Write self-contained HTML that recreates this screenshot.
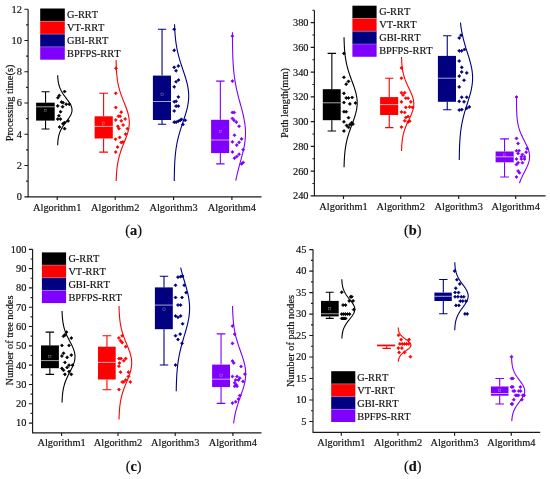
<!DOCTYPE html>
<html><head><meta charset="utf-8"><title>Figure</title>
<style>
html,body{margin:0;padding:0;background:#fff;}
svg{display:block;}
svg text{font-family:"Liberation Serif", "DejaVu Serif", serif;fill:#111;stroke:#111;stroke-width:0.18px;font-kerning:none;}
</style></head><body>
<svg width="550" height="479" viewBox="0 0 550 479">
<rect width="550" height="479" fill="#fff"/>
<path d="M28.10 9.24V196.80H261.50" fill="none" stroke="#1a1a1a" stroke-width="1.15"/>
<path d="M28.10 196.80h-3.7M28.10 165.54h-3.7M28.10 134.28h-3.7M28.10 103.02h-3.7M28.10 71.76h-3.7M28.10 40.50h-3.7M28.10 9.24h-3.7M28.10 181.17h-2M28.10 149.91h-2M28.10 118.65h-2M28.10 87.39h-2M28.10 56.13h-2M28.10 24.87h-2M57.20 196.80v3.3M115.20 196.80v3.3M173.60 196.80v3.3M231.90 196.80v3.3" fill="none" stroke="#1a1a1a" stroke-width="1.15"/>
<text x="21.80" y="200.20" text-anchor="end" font-size="10.35">0</text>
<text x="21.80" y="168.94" text-anchor="end" font-size="10.35">2</text>
<text x="21.80" y="137.68" text-anchor="end" font-size="10.35">4</text>
<text x="21.80" y="106.42" text-anchor="end" font-size="10.35">6</text>
<text x="21.80" y="75.16" text-anchor="end" font-size="10.35">8</text>
<text x="21.80" y="43.90" text-anchor="end" font-size="10.35">10</text>
<text x="21.80" y="12.64" text-anchor="end" font-size="10.35">12</text>
<text x="57.20" y="210.90" text-anchor="middle" font-size="10.35">Algorithm1</text>
<text x="115.20" y="210.90" text-anchor="middle" font-size="10.35">Algorithm2</text>
<text x="173.60" y="210.90" text-anchor="middle" font-size="10.35">Algorithm3</text>
<text x="231.90" y="210.90" text-anchor="middle" font-size="10.35">Algorithm4</text>
<text transform="translate(13.20 103.00) rotate(-90)" text-anchor="middle" font-size="10.35">Processing time(s)</text>
<rect x="40.20" y="8.50" width="24.60" height="12.80" fill="#000000"/>
<text x="67.00" y="18.00" font-size="10.35">G-RRT</text>
<rect x="40.20" y="21.30" width="24.60" height="12.80" fill="#ff0000"/>
<path d="M40.20 21.30H64.80" stroke="#d8c0e8" stroke-opacity="0.6" stroke-width="0.6"/>
<text x="67.00" y="30.95" font-size="10.35">VT-RRT</text>
<rect x="40.20" y="34.10" width="24.60" height="12.80" fill="#000080"/>
<path d="M40.20 34.10H64.80" stroke="#d8c0e8" stroke-opacity="0.6" stroke-width="0.6"/>
<text x="67.00" y="43.90" font-size="10.35">GBI-RRT</text>
<rect x="40.20" y="46.90" width="24.60" height="12.80" fill="#7f00ff"/>
<path d="M40.20 46.90H64.80" stroke="#d8c0e8" stroke-opacity="0.6" stroke-width="0.6"/>
<text x="67.00" y="56.85" font-size="10.35">BPFPS-RRT</text>
<path d="M45.55 102.70V91.80M41.50 91.80H49.60M45.55 120.60V129.00M41.50 129.00H49.60" fill="none" stroke="#000000" stroke-width="1.1"/>
<rect x="36.10" y="102.70" width="18.60" height="17.90" fill="#000000"/>
<path d="M36.10 106.80H54.70" stroke="#fff" stroke-opacity="0.72" stroke-width="0.9"/>
<rect x="44.45" y="109.30" width="2.2" height="2.2" fill="none" stroke="#fff" stroke-opacity="0.6" stroke-width="0.4"/>
<path d="M57.67 75.30L57.73 76.47L57.81 77.63L57.90 78.80L58.02 79.96L58.17 81.12L58.36 82.29L58.58 83.45L58.85 84.62L59.17 85.78L59.55 86.95L59.98 88.11L60.48 89.28L61.04 90.44L61.67 91.61L62.36 92.77L63.11 93.94L63.90 95.10L64.74 96.27L65.61 97.44L66.48 98.60L67.36 99.76L68.21 100.93L69.02 102.09L69.77 103.26L70.43 104.42L71.00 105.59L71.45 106.75L71.77 107.92L71.96 109.08L72.00 110.25L71.89 111.41L71.65 112.58L71.27 113.75L70.77 114.91L70.16 116.07L69.45 117.24L68.68 118.41L67.85 119.57L66.98 120.73L66.11 121.90L65.23 123.06L64.38 124.23L63.56 125.39L62.78 126.56L62.06 127.72L61.39 128.89L60.80 130.06L60.26 131.22L59.79 132.38L59.38 133.55L59.03 134.71L58.73 135.88L58.48 137.04L58.27 138.21L58.10 139.38L57.97 140.54L57.86 141.70L57.77 142.87L57.70 144.03L57.65 145.20" fill="none" stroke="#000000" stroke-width="1.1" stroke-linejoin="round"/>
<path d="M64.59 90.00L66.14 91.55L64.59 93.10L63.04 91.55ZM59.25 94.01L60.80 95.56L59.25 97.11L57.70 95.56ZM57.91 96.18L59.46 97.73L57.91 99.28L56.36 97.73ZM61.42 100.52L62.97 102.07L61.42 103.62L59.87 102.07ZM63.09 101.19L64.64 102.74L63.09 104.29L61.54 102.74ZM66.26 102.70L67.81 104.25L66.26 105.80L64.71 104.25ZM69.27 102.70L70.82 104.25L69.27 105.80L67.72 104.25ZM57.74 104.37L59.29 105.92L57.74 107.47L56.19 105.92ZM62.59 105.20L64.14 106.75L62.59 108.30L61.04 106.75ZM60.58 110.21L62.13 111.76L60.58 113.31L59.03 111.76ZM58.91 114.22L60.46 115.77L58.91 117.32L57.36 115.77ZM57.74 117.56L59.29 119.11L57.74 120.66L56.19 119.11ZM60.42 117.56L61.97 119.11L60.42 120.66L58.87 119.11ZM68.10 119.40L69.65 120.95L68.10 122.50L66.55 120.95ZM64.59 121.07L66.14 122.62L64.59 124.17L63.04 122.62ZM62.92 122.24L64.47 123.79L62.92 125.34L61.37 123.79ZM59.58 125.42L61.13 126.97L59.58 128.52L58.03 126.97ZM64.59 127.09L66.14 128.64L64.59 130.19L63.04 128.64Z" fill="#000000" stroke="#000000" stroke-width="0.7" stroke-linejoin="round"/>
<path d="M103.60 116.30V93.30M99.20 93.30H108.00M103.60 138.50V152.10M99.20 152.10H108.00" fill="none" stroke="#ff0000" stroke-width="1.1"/>
<rect x="94.60" y="116.30" width="18.20" height="22.20" fill="#ff0000"/>
<path d="M94.60 126.40H112.80" stroke="#fff" stroke-opacity="0.72" stroke-width="0.9"/>
<rect x="102.50" y="122.00" width="2.2" height="2.2" fill="none" stroke="#fff" stroke-opacity="0.6" stroke-width="0.4"/>
<path d="M116.11 60.10L116.15 62.12L116.20 64.13L116.26 66.14L116.34 68.16L116.45 70.17L116.58 72.19L116.74 74.20L116.94 76.22L117.18 78.23L117.46 80.25L117.79 82.27L118.18 84.28L118.63 86.30L119.13 88.31L119.69 90.33L120.31 92.34L120.99 94.36L121.71 96.37L122.48 98.38L123.27 100.40L124.07 102.42L124.88 104.43L125.67 106.45L126.42 108.46L127.12 110.47L127.75 112.49L128.29 114.50L128.72 116.52L129.04 118.54L129.24 120.55L129.30 122.56L129.23 124.58L129.03 126.59L128.70 128.61L128.26 130.62L127.71 132.64L127.08 134.66L126.37 136.67L125.62 138.69L124.83 140.70L124.02 142.72L123.22 144.73L122.43 146.75L121.67 148.76L120.94 150.78L120.27 152.79L119.66 154.81L119.10 156.82L118.60 158.84L118.15 160.85L117.77 162.87L117.44 164.88L117.16 166.90L116.93 168.91L116.73 170.93L116.57 172.94L116.44 174.96L116.34 176.97L116.26 178.99L116.19 181.00" fill="none" stroke="#ff0000" stroke-width="1.1" stroke-linejoin="round"/>
<path d="M115.76 91.76L117.31 93.31L115.76 94.86L114.21 93.31ZM115.76 105.99L117.31 107.54L115.76 109.09L114.21 107.54ZM121.26 110.58L122.81 112.13L121.26 113.68L119.71 112.13ZM118.51 114.71L120.06 116.26L118.51 117.81L116.96 116.26ZM120.12 114.71L121.67 116.26L120.12 117.81L118.57 116.26ZM125.17 117.47L126.72 119.02L125.17 120.57L123.62 119.02ZM115.76 118.39L117.31 119.94L115.76 121.49L114.21 119.94ZM121.26 119.30L122.81 120.85L121.26 122.40L119.71 120.85ZM123.10 123.44L124.65 124.99L123.10 126.54L121.55 124.99ZM117.82 124.81L119.37 126.36L117.82 127.91L116.27 126.36ZM118.97 127.11L120.52 128.66L118.97 130.21L117.42 128.66ZM127.46 127.11L129.01 128.66L127.46 130.21L125.91 128.66ZM125.62 132.62L127.17 134.17L125.62 135.72L124.07 134.17ZM119.66 135.83L121.21 137.38L119.66 138.93L118.11 137.38ZM115.53 137.67L117.08 139.22L115.53 140.77L113.98 139.22ZM122.87 140.42L124.42 141.97L122.87 143.52L121.32 141.97ZM121.26 140.88L122.81 142.43L121.26 143.98L119.71 142.43ZM117.59 145.47L119.14 147.02L117.59 148.57L116.04 147.02ZM115.76 150.52L117.31 152.07L115.76 153.62L114.21 152.07ZM116.00 66.75L117.55 68.30L116.00 69.85L114.45 68.30Z" fill="#ff0000" stroke="#ff0000" stroke-width="0.7" stroke-linejoin="round"/>
<path d="M162.05 75.60V29.20M157.90 29.20H166.20M162.05 120.00V124.30M157.90 124.30H166.20" fill="none" stroke="#000080" stroke-width="1.1"/>
<rect x="152.90" y="75.60" width="18.10" height="44.40" fill="#000080"/>
<path d="M152.90 101.50H171.00" stroke="#fff" stroke-opacity="0.72" stroke-width="0.9"/>
<rect x="160.95" y="93.10" width="2.2" height="2.2" fill="none" stroke="#fff" stroke-opacity="0.6" stroke-width="0.4"/>
<path d="M174.52 24.20L174.62 26.81L174.75 29.43L174.90 32.05L175.10 34.66L175.33 37.27L175.61 39.89L175.95 42.50L176.34 45.12L176.79 47.73L177.30 50.35L177.89 52.97L178.53 55.58L179.24 58.19L180.00 60.81L180.81 63.42L181.67 66.04L182.54 68.66L183.42 71.27L184.30 73.88L185.15 76.50L185.94 79.11L186.67 81.73L187.31 84.34L187.85 86.96L188.26 89.58L188.55 92.19L188.68 94.81L188.68 97.42L188.53 100.04L188.23 102.65L187.81 105.27L187.26 107.88L186.61 110.50L185.88 113.11L185.07 115.73L184.22 118.34L183.35 120.96L182.46 123.57L181.59 126.19L180.74 128.80L179.93 131.41L179.17 134.03L178.47 136.64L177.83 139.26L177.26 141.88L176.75 144.49L176.30 147.10L175.92 149.72L175.59 152.34L175.31 154.95L175.08 157.56L174.89 160.18L174.73 162.79L174.61 165.41L174.51 168.02L174.44 170.64L174.38 173.25L174.33 175.87L174.29 178.48L174.27 181.10" fill="none" stroke="#000080" stroke-width="1.1" stroke-linejoin="round"/>
<path d="M174.20 27.68L175.75 29.23L174.20 30.78L172.65 29.23ZM174.20 48.80L175.75 50.35L174.20 51.90L172.65 50.35ZM174.20 65.78L175.75 67.33L174.20 68.88L172.65 67.33ZM178.33 64.40L179.88 65.95L178.33 67.50L176.78 65.95ZM176.03 69.22L177.58 70.77L176.03 72.32L174.48 70.77ZM178.56 78.40L180.11 79.95L178.56 81.50L177.01 79.95ZM176.03 80.24L177.58 81.79L176.03 83.34L174.48 81.79ZM174.20 85.29L175.75 86.84L174.20 88.39L172.65 86.84ZM178.33 95.39L179.88 96.94L178.33 98.49L176.78 96.94ZM174.20 100.21L175.75 101.76L174.20 103.31L172.65 101.76ZM176.03 99.75L177.58 101.30L176.03 102.85L174.48 101.30ZM176.03 104.57L177.58 106.12L176.03 107.67L174.48 106.12ZM178.33 104.57L179.88 106.12L178.33 107.67L176.78 106.12ZM174.20 109.39L175.75 110.94L174.20 112.49L172.65 110.94ZM174.20 120.58L175.75 122.13L174.20 123.68L172.65 122.13ZM176.03 120.58L177.58 122.13L176.03 123.68L174.48 122.13ZM178.33 119.66L179.88 121.21L178.33 122.76L176.78 121.21ZM180.17 118.75L181.72 120.30L180.17 121.85L178.62 120.30ZM181.54 117.83L183.09 119.38L181.54 120.93L179.99 119.38ZM185.21 118.75L186.76 120.30L185.21 121.85L183.66 120.30ZM182.92 122.88L184.47 124.43L182.92 125.98L181.37 124.43Z" fill="#000080" stroke="#000080" stroke-width="0.7" stroke-linejoin="round"/>
<path d="M220.35 119.80V81.10M216.10 81.10H224.60M220.35 153.10V163.90M216.10 163.90H224.60" fill="none" stroke="#7f00ff" stroke-width="1.1"/>
<rect x="211.10" y="119.80" width="18.10" height="33.30" fill="#7f00ff"/>
<path d="M211.10 140.00H229.20" stroke="#fff" stroke-opacity="0.72" stroke-width="0.9"/>
<rect x="219.25" y="130.40" width="2.2" height="2.2" fill="none" stroke="#fff" stroke-opacity="0.6" stroke-width="0.4"/>
<path d="M232.43 32.20L232.44 34.68L232.46 37.15L232.47 39.62L232.50 42.10L232.53 44.58L232.56 47.05L232.61 49.53L232.66 52.00L232.74 54.48L232.82 56.95L232.92 59.43L233.05 61.90L233.20 64.38L233.37 66.85L233.58 69.33L233.81 71.80L234.09 74.28L234.40 76.75L234.75 79.22L235.14 81.70L235.58 84.18L236.05 86.65L236.57 89.12L237.13 91.60L237.72 94.08L238.35 96.55L239.00 99.03L239.66 101.50L240.34 103.98L241.02 106.45L241.68 108.92L242.33 111.40L242.94 113.88L243.51 116.35L244.02 118.83L244.48 121.30L244.85 123.78L245.15 126.25L245.36 128.73L245.47 131.20L245.50 133.68L245.42 136.15L245.26 138.62L245.00 141.10L244.66 143.57L244.24 146.05L243.75 148.53L243.20 151.00L242.61 153.48L241.98 155.95L241.32 158.43L240.65 160.90L239.97 163.38L239.30 165.85L238.64 168.32L238.00 170.80L237.39 173.27L236.82 175.75L236.28 178.23L235.79 180.70" fill="none" stroke="#7f00ff" stroke-width="1.1" stroke-linejoin="round"/>
<path d="M232.41 110.94L233.96 112.49L232.41 114.04L230.86 112.49ZM234.25 110.94L235.80 112.49L234.25 114.04L232.70 112.49ZM232.41 116.91L233.96 118.46L232.41 120.01L230.86 118.46ZM234.02 118.75L235.57 120.30L234.02 121.85L232.47 120.30ZM236.31 120.58L237.86 122.13L236.31 123.68L234.76 122.13ZM239.07 124.71L240.62 126.26L239.07 127.81L237.52 126.26ZM234.48 133.66L236.03 135.21L234.48 136.76L232.93 135.21ZM232.41 140.32L233.96 141.87L232.41 143.42L230.86 141.87ZM241.59 137.34L243.14 138.89L241.59 140.44L240.04 138.89ZM239.07 140.78L240.62 142.33L239.07 143.88L237.52 142.33ZM236.77 143.53L238.32 145.08L236.77 146.63L235.22 145.08ZM243.20 148.12L244.75 149.67L243.20 151.22L241.65 149.67ZM232.41 150.42L233.96 151.97L232.41 153.52L230.86 151.97ZM239.07 152.71L240.62 154.26L239.07 155.81L237.52 154.26ZM236.77 155.01L238.32 156.56L236.77 158.11L235.22 156.56ZM234.48 156.62L236.03 158.17L234.48 159.72L232.93 158.17ZM243.20 160.98L244.75 162.53L243.20 164.08L241.65 162.53ZM241.59 162.35L243.14 163.90L241.59 165.45L240.04 163.90ZM232.41 34.57L233.96 36.12L232.41 37.67L230.86 36.12ZM232.41 79.55L233.96 81.10L232.41 82.65L230.86 81.10Z" fill="#7f00ff" stroke="#7f00ff" stroke-width="0.7" stroke-linejoin="round"/>
<text x="133.7" y="235.2" text-anchor="middle" font-size="14.3"><tspan>(</tspan><tspan font-weight="bold">a</tspan><tspan>)</tspan></text>
<path d="M314.40 10.30V195.80H545.60" fill="none" stroke="#1a1a1a" stroke-width="1.15"/>
<path d="M314.40 195.85h-3.7M314.40 171.10h-3.7M314.40 146.35h-3.7M314.40 121.60h-3.7M314.40 96.85h-3.7M314.40 72.10h-3.7M314.40 47.35h-3.7M314.40 22.60h-3.7M314.40 183.47h-2M314.40 158.72h-2M314.40 133.97h-2M314.40 109.22h-2M314.40 84.47h-2M314.40 59.73h-2M314.40 34.98h-2M314.40 10.23h-2M343.50 195.80v3.3M400.70 195.80v3.3M458.70 195.80v3.3M515.70 195.80v3.3" fill="none" stroke="#1a1a1a" stroke-width="1.15"/>
<text x="308.50" y="199.25" text-anchor="end" font-size="10.35">240</text>
<text x="308.50" y="174.50" text-anchor="end" font-size="10.35">260</text>
<text x="308.50" y="149.75" text-anchor="end" font-size="10.35">280</text>
<text x="308.50" y="125.00" text-anchor="end" font-size="10.35">300</text>
<text x="308.50" y="100.25" text-anchor="end" font-size="10.35">320</text>
<text x="308.50" y="75.50" text-anchor="end" font-size="10.35">340</text>
<text x="308.50" y="50.75" text-anchor="end" font-size="10.35">360</text>
<text x="308.50" y="26.00" text-anchor="end" font-size="10.35">380</text>
<text x="343.50" y="210.40" text-anchor="middle" font-size="10.35">Algorithm1</text>
<text x="400.70" y="210.40" text-anchor="middle" font-size="10.35">Algorithm2</text>
<text x="458.70" y="210.40" text-anchor="middle" font-size="10.35">Algorithm3</text>
<text x="515.70" y="210.40" text-anchor="middle" font-size="10.35">Algorithm4</text>
<text transform="translate(288.00 103.00) rotate(-90)" text-anchor="middle" font-size="10.35">Path length(mm)</text>
<rect x="352.40" y="5.70" width="24.20" height="12.77" fill="#000000"/>
<text x="379.20" y="15.20" font-size="10.35">G-RRT</text>
<rect x="352.40" y="18.47" width="24.20" height="12.77" fill="#ff0000"/>
<path d="M352.40 18.47H376.60" stroke="#d8c0e8" stroke-opacity="0.6" stroke-width="0.6"/>
<text x="379.20" y="28.15" font-size="10.35">VT-RRT</text>
<rect x="352.40" y="31.25" width="24.20" height="12.77" fill="#000080"/>
<path d="M352.40 31.25H376.60" stroke="#d8c0e8" stroke-opacity="0.6" stroke-width="0.6"/>
<text x="379.20" y="41.10" font-size="10.35">GBI-RRT</text>
<rect x="352.40" y="44.02" width="24.20" height="12.77" fill="#7f00ff"/>
<path d="M352.40 44.02H376.60" stroke="#d8c0e8" stroke-opacity="0.6" stroke-width="0.6"/>
<text x="379.20" y="54.05" font-size="10.35">BPFPS-RRT</text>
<path d="M331.85 89.20V53.40M327.60 53.40H336.10M331.85 120.20V131.00M327.60 131.00H336.10" fill="none" stroke="#000000" stroke-width="1.1"/>
<rect x="322.80" y="89.20" width="17.90" height="31.00" fill="#000000"/>
<path d="M322.80 102.80H340.70" stroke="#fff" stroke-opacity="0.72" stroke-width="0.9"/>
<path d="M344.04 37.30L344.09 39.47L344.15 41.63L344.23 43.80L344.33 45.97L344.46 48.13L344.61 50.30L344.80 52.47L345.03 54.63L345.31 56.80L345.63 58.97L346.01 61.13L346.44 63.30L346.93 65.47L347.48 67.63L348.08 69.80L348.75 71.97L349.46 74.13L350.21 76.30L350.99 78.47L351.79 80.63L352.60 82.80L353.39 84.97L354.15 87.13L354.86 89.30L355.50 91.47L356.06 93.63L356.53 95.80L356.87 97.97L357.10 100.13L357.20 102.30L357.16 104.47L356.99 106.63L356.70 108.80L356.29 110.97L355.77 113.13L355.17 115.30L354.48 117.47L353.74 119.63L352.97 121.80L352.17 123.97L351.36 126.13L350.57 128.30L349.80 130.47L349.07 132.63L348.38 134.80L347.75 136.97L347.17 139.13L346.66 141.30L346.20 143.47L345.80 145.63L345.45 147.80L345.15 149.97L344.90 152.13L344.70 154.30L344.52 156.47L344.39 158.63L344.27 160.80L344.18 162.97L344.11 165.13L344.06 167.30" fill="none" stroke="#000000" stroke-width="1.1" stroke-linejoin="round"/>
<path d="M343.92 51.86L345.47 53.41L343.92 54.96L342.37 53.41ZM343.92 75.73L345.47 77.28L343.92 78.83L342.37 77.28ZM348.51 79.86L350.06 81.41L348.51 82.96L346.96 81.41ZM346.21 82.62L347.76 84.17L346.21 85.72L344.66 84.17ZM343.92 91.80L345.47 93.35L343.92 94.90L342.37 93.35ZM346.21 96.39L347.76 97.94L346.21 99.49L344.66 97.94ZM348.51 96.39L350.06 97.94L348.51 99.49L346.96 97.94ZM352.18 95.93L353.73 97.48L352.18 99.03L350.63 97.48ZM343.92 100.98L345.47 102.53L343.92 104.08L342.37 102.53ZM349.89 102.35L351.44 103.90L349.89 105.45L348.34 103.90ZM355.39 101.44L356.94 102.99L355.39 104.54L353.84 102.99ZM343.92 110.16L345.47 111.71L343.92 113.26L342.37 111.71ZM346.21 110.16L347.76 111.71L346.21 113.26L344.66 111.71ZM348.51 116.13L350.06 117.68L348.51 119.23L346.96 117.68ZM343.92 120.26L345.47 121.81L343.92 123.36L342.37 121.81ZM351.72 121.17L353.27 122.72L351.72 124.27L350.17 122.72ZM349.89 123.01L351.44 124.56L349.89 126.11L348.34 124.56ZM352.87 122.55L354.42 124.10L352.87 125.65L351.32 124.10ZM346.67 123.93L348.22 125.48L346.67 127.03L345.12 125.48ZM348.51 125.76L350.06 127.31L348.51 128.86L346.96 127.31ZM343.92 129.44L345.47 130.99L343.92 132.54L342.37 130.99Z" fill="#000000" stroke="#000000" stroke-width="0.7" stroke-linejoin="round"/>
<path d="M389.25 97.10V78.20M385.10 78.20H393.40M389.25 115.00V127.60M385.10 127.60H393.40" fill="none" stroke="#ff0000" stroke-width="1.1"/>
<rect x="380.10" y="97.10" width="18.10" height="17.90" fill="#ff0000"/>
<path d="M380.10 104.60H398.20" stroke="#fff" stroke-opacity="0.72" stroke-width="0.9"/>
<path d="M401.54 56.90L401.58 58.47L401.65 60.04L401.72 61.60L401.82 63.17L401.94 64.74L402.10 66.31L402.28 67.88L402.50 69.45L402.76 71.02L403.07 72.58L403.43 74.15L403.85 75.72L404.32 77.29L404.84 78.86L405.42 80.42L406.04 81.99L406.71 83.56L407.42 85.13L408.16 86.70L408.91 88.27L409.65 89.83L410.39 91.40L411.09 92.97L411.74 94.54L412.33 96.11L412.83 97.68L413.24 99.25L413.55 100.81L413.73 102.38L413.80 103.95L413.74 105.52L413.56 107.09L413.27 108.66L412.86 110.22L412.36 111.79L411.78 113.36L411.13 114.93L410.43 116.50L409.70 118.06L408.95 119.63L408.20 121.20L407.47 122.77L406.76 124.34L406.08 125.91L405.45 127.47L404.87 129.04L404.35 130.61L403.88 132.18L403.46 133.75L403.10 135.32L402.78 136.88L402.52 138.45L402.29 140.02L402.11 141.59L401.95 143.16L401.83 144.73L401.73 146.29L401.65 147.86L401.59 149.43L401.54 151.00" fill="none" stroke="#ff0000" stroke-width="1.1" stroke-linejoin="round"/>
<path d="M401.44 66.35L402.99 67.90L401.44 69.45L399.89 67.90ZM401.44 76.68L402.99 78.23L401.44 79.78L399.89 78.23ZM401.44 91.14L402.99 92.69L401.44 94.24L399.89 92.69ZM404.66 91.14L406.21 92.69L404.66 94.24L403.11 92.69ZM403.05 93.44L404.60 94.99L403.05 96.54L401.50 94.99ZM405.80 96.65L407.35 98.20L405.80 99.75L404.25 98.20ZM401.44 100.32L402.99 101.87L401.44 103.42L399.89 101.87ZM408.10 96.65L409.65 98.20L408.10 99.75L406.55 98.20ZM410.85 100.32L412.40 101.87L410.85 103.42L409.30 101.87ZM405.80 105.83L407.35 107.38L405.80 108.93L404.25 107.38ZM409.71 105.37L411.26 106.92L409.71 108.47L408.16 106.92ZM412.46 105.83L414.01 107.38L412.46 108.93L410.91 107.38ZM401.44 110.42L402.99 111.97L401.44 113.52L399.89 111.97ZM404.66 110.88L406.21 112.43L404.66 113.98L403.11 112.43ZM408.10 115.01L409.65 116.56L408.10 118.11L406.55 116.56ZM405.80 115.93L407.35 117.48L405.80 119.03L404.25 117.48ZM404.66 119.14L406.21 120.69L404.66 122.24L403.11 120.69ZM409.71 119.60L411.26 121.15L409.71 122.70L408.16 121.15ZM408.10 120.52L409.65 122.07L408.10 123.62L406.55 122.07ZM401.44 125.57L402.99 127.12L401.44 128.67L399.89 127.12Z" fill="#ff0000" stroke="#ff0000" stroke-width="0.7" stroke-linejoin="round"/>
<path d="M447.25 55.90V35.70M443.10 35.70H451.40M447.25 101.80V109.80M443.10 109.80H451.40" fill="none" stroke="#000080" stroke-width="1.1"/>
<rect x="437.90" y="55.90" width="18.10" height="45.90" fill="#000080"/>
<path d="M437.90 78.20H456.00" stroke="#fff" stroke-opacity="0.72" stroke-width="0.9"/>
<path d="M460.47 22.60L460.73 24.89L461.04 27.18L461.39 29.47L461.79 31.76L462.23 34.05L462.73 36.34L463.27 38.63L463.86 40.92L464.48 43.21L465.15 45.50L465.84 47.79L466.56 50.08L467.29 52.37L468.01 54.66L468.73 56.95L469.42 59.24L470.08 61.53L470.68 63.82L471.22 66.11L471.68 68.40L472.06 70.69L472.34 72.98L472.52 75.27L472.60 77.56L472.56 79.85L472.42 82.14L472.18 84.43L471.84 86.72L471.41 89.01L470.90 91.30L470.32 93.59L469.68 95.88L469.00 98.17L468.29 100.46L467.57 102.75L466.84 105.04L466.12 107.33L465.41 109.62L464.73 111.91L464.09 114.20L463.49 116.49L462.93 118.78L462.42 121.07L461.95 123.36L461.54 125.65L461.17 127.94L460.84 130.23L460.56 132.52L460.32 134.81L460.11 137.10L459.94 139.39L459.79 141.68L459.67 143.97L459.57 146.26L459.49 148.55L459.43 150.84L459.37 153.13L459.33 155.42L459.30 157.71L459.28 160.00" fill="none" stroke="#000080" stroke-width="1.1" stroke-linejoin="round"/>
<path d="M459.20 36.45L460.75 38.00L459.20 39.55L457.65 38.00ZM461.03 33.70L462.58 35.25L461.03 36.80L459.48 35.25ZM459.20 49.30L460.75 50.85L459.20 52.40L457.65 50.85ZM461.72 49.30L463.27 50.85L461.72 52.40L460.17 50.85ZM464.48 47.93L466.03 49.48L464.48 51.03L462.93 49.48ZM459.20 59.40L460.75 60.95L459.20 62.50L457.65 60.95ZM461.72 65.83L463.27 67.38L461.72 68.93L460.17 67.38ZM461.72 70.42L463.27 71.97L461.72 73.52L460.17 71.97ZM466.77 71.34L468.32 72.89L466.77 74.44L465.22 72.89ZM459.20 74.55L460.75 76.10L459.20 77.65L457.65 76.10ZM464.02 78.68L465.57 80.23L464.02 81.78L462.47 80.23ZM459.20 85.34L460.75 86.89L459.20 88.44L457.65 86.89ZM461.72 95.67L463.27 97.22L461.72 98.77L460.17 97.22ZM466.77 95.67L468.32 97.22L466.77 98.77L465.22 97.22ZM459.20 99.80L460.75 101.35L459.20 102.90L457.65 101.35ZM464.02 100.26L465.57 101.81L464.02 103.36L462.47 101.81ZM469.30 105.31L470.85 106.86L469.30 108.41L467.75 106.86ZM466.77 106.68L468.32 108.23L466.77 109.78L465.22 108.23ZM459.20 108.52L460.75 110.07L459.20 111.62L457.65 110.07ZM461.72 108.06L463.27 109.61L461.72 111.16L460.17 109.61Z" fill="#000080" stroke="#000080" stroke-width="0.7" stroke-linejoin="round"/>
<path d="M504.55 151.50V138.90M500.20 138.90H508.90M504.55 162.30V177.00M500.20 177.00H508.90" fill="none" stroke="#7f00ff" stroke-width="1.1"/>
<rect x="495.60" y="151.50" width="18.10" height="10.80" fill="#7f00ff"/>
<path d="M495.60 156.80H513.70" stroke="#fff" stroke-opacity="0.72" stroke-width="0.9"/>
<rect x="503.45" y="153.90" width="2.2" height="2.2" fill="none" stroke="#fff" stroke-opacity="0.6" stroke-width="0.4"/>
<path d="M516.51 97.00L516.51 98.44L516.52 99.87L516.52 101.31L516.53 102.75L516.54 104.18L516.56 105.62L516.58 107.06L516.61 108.49L516.64 109.93L516.69 111.37L516.75 112.80L516.82 114.24L516.91 115.68L517.02 117.11L517.15 118.55L517.32 119.99L517.51 121.42L517.74 122.86L518.01 124.30L518.33 125.73L518.69 127.17L519.09 128.61L519.55 130.04L520.06 131.48L520.62 132.92L521.22 134.35L521.87 135.79L522.55 137.23L523.26 138.66L523.98 140.10L524.72 141.54L525.45 142.97L526.16 144.41L526.84 145.85L527.48 147.28L528.05 148.72L528.55 150.16L528.96 151.59L529.28 153.03L529.49 154.47L529.59 155.90L529.58 157.34L529.46 158.78L529.23 160.21L528.90 161.65L528.47 163.09L527.96 164.52L527.37 165.96L526.73 167.40L526.05 168.83L525.33 170.27L524.60 171.71L523.86 173.14L523.13 174.58L522.43 176.02L521.75 177.45L521.11 178.89L520.52 180.33L519.97 181.76L519.47 183.20" fill="none" stroke="#7f00ff" stroke-width="1.1" stroke-linejoin="round"/>
<path d="M516.49 95.53L518.04 97.08L516.49 98.63L514.94 97.08ZM516.49 136.85L518.04 138.40L516.49 139.95L514.94 138.40ZM518.10 141.90L519.65 143.45L518.10 145.00L516.55 143.45ZM527.05 146.94L528.60 148.49L527.05 150.04L525.50 148.49ZM516.49 149.24L518.04 150.79L516.49 152.34L514.94 150.79ZM519.02 149.24L520.57 150.79L519.02 152.34L517.47 150.79ZM526.13 150.62L527.68 152.17L526.13 153.72L524.58 152.17ZM518.10 151.99L519.65 153.54L518.10 155.09L516.55 153.54ZM522.46 152.91L524.01 154.46L522.46 156.01L520.91 154.46ZM521.31 155.21L522.86 156.76L521.31 158.31L519.76 156.76ZM524.53 155.21L526.08 156.76L524.53 158.31L522.98 156.76ZM516.49 157.50L518.04 159.05L516.49 160.60L514.94 159.05ZM521.31 157.50L522.86 159.05L521.31 160.60L519.76 159.05ZM524.53 157.50L526.08 159.05L524.53 160.60L522.98 159.05ZM522.46 161.17L524.01 162.72L522.46 164.27L520.91 162.72ZM518.10 161.17L519.65 162.72L518.10 164.27L516.55 162.72ZM516.49 163.01L518.04 164.56L516.49 166.11L514.94 164.56ZM518.10 169.44L519.65 170.99L518.10 172.54L516.55 170.99ZM519.48 171.27L521.03 172.82L519.48 174.37L517.93 172.82ZM516.49 175.40L518.04 176.95L516.49 178.50L514.94 176.95Z" fill="#7f00ff" stroke="#7f00ff" stroke-width="0.7" stroke-linejoin="round"/>
<text x="412.7" y="235.2" text-anchor="middle" font-size="14.3"><tspan>(</tspan><tspan font-weight="bold">b</tspan><tspan>)</tspan></text>
<path d="M32.60 249.30V432.80H261.50" fill="none" stroke="#1a1a1a" stroke-width="1.15"/>
<path d="M32.60 423.09h-3.7M32.60 403.78h-3.7M32.60 384.47h-3.7M32.60 365.16h-3.7M32.60 345.85h-3.7M32.60 326.54h-3.7M32.60 307.23h-3.7M32.60 287.92h-3.7M32.60 268.61h-3.7M32.60 249.30h-3.7M32.60 413.44h-2M32.60 394.12h-2M32.60 374.81h-2M32.60 355.50h-2M32.60 336.19h-2M32.60 316.88h-2M32.60 297.57h-2M32.60 278.26h-2M32.60 258.96h-2M61.60 432.80v3.3M118.00 432.80v3.3M175.20 432.80v3.3M232.90 432.80v3.3" fill="none" stroke="#1a1a1a" stroke-width="1.15"/>
<text x="26.30" y="426.49" text-anchor="end" font-size="10.35">10</text>
<text x="26.30" y="407.18" text-anchor="end" font-size="10.35">20</text>
<text x="26.30" y="387.87" text-anchor="end" font-size="10.35">30</text>
<text x="26.30" y="368.56" text-anchor="end" font-size="10.35">40</text>
<text x="26.30" y="349.25" text-anchor="end" font-size="10.35">50</text>
<text x="26.30" y="329.94" text-anchor="end" font-size="10.35">60</text>
<text x="26.30" y="310.63" text-anchor="end" font-size="10.35">70</text>
<text x="26.30" y="291.32" text-anchor="end" font-size="10.35">80</text>
<text x="26.30" y="272.01" text-anchor="end" font-size="10.35">90</text>
<text x="26.30" y="252.70" text-anchor="end" font-size="10.35">100</text>
<text x="61.60" y="446.40" text-anchor="middle" font-size="10.35">Algorithm1</text>
<text x="118.00" y="446.40" text-anchor="middle" font-size="10.35">Algorithm2</text>
<text x="175.20" y="446.40" text-anchor="middle" font-size="10.35">Algorithm3</text>
<text x="232.90" y="446.40" text-anchor="middle" font-size="10.35">Algorithm4</text>
<text transform="translate(13.00 340.50) rotate(-90)" text-anchor="middle" font-size="10.35">Number of tree nodes</text>
<rect x="41.90" y="252.40" width="24.20" height="12.68" fill="#000000"/>
<text x="68.40" y="261.90" font-size="10.35">G-RRT</text>
<rect x="41.90" y="265.07" width="24.20" height="12.68" fill="#ff0000"/>
<path d="M41.90 265.07H66.10" stroke="#d8c0e8" stroke-opacity="0.6" stroke-width="0.6"/>
<text x="68.40" y="274.85" font-size="10.35">VT-RRT</text>
<rect x="41.90" y="277.75" width="24.20" height="12.68" fill="#000080"/>
<path d="M41.90 277.75H66.10" stroke="#d8c0e8" stroke-opacity="0.6" stroke-width="0.6"/>
<text x="68.40" y="287.80" font-size="10.35">GBI-RRT</text>
<rect x="41.90" y="290.43" width="24.20" height="12.68" fill="#7f00ff"/>
<path d="M41.90 290.43H66.10" stroke="#d8c0e8" stroke-opacity="0.6" stroke-width="0.6"/>
<text x="68.40" y="300.75" font-size="10.35">BPFPS-RRT</text>
<path d="M49.85 345.40V332.10M45.60 332.10H54.10M49.85 368.20V374.40M45.60 374.40H54.10" fill="none" stroke="#000000" stroke-width="1.1"/>
<rect x="41.00" y="345.40" width="17.90" height="22.80" fill="#000000"/>
<path d="M41.00 360.60H58.90" stroke="#fff" stroke-opacity="0.72" stroke-width="0.9"/>
<rect x="48.75" y="355.40" width="2.2" height="2.2" fill="none" stroke="#fff" stroke-opacity="0.6" stroke-width="0.4"/>
<path d="M62.05 311.00L62.10 312.53L62.17 314.05L62.25 315.58L62.36 317.11L62.49 318.63L62.66 320.16L62.86 321.69L63.09 323.21L63.38 324.74L63.71 326.27L64.10 327.79L64.54 329.32L65.04 330.85L65.60 332.37L66.22 333.90L66.88 335.43L67.60 336.95L68.35 338.48L69.12 340.01L69.91 341.53L70.70 343.06L71.48 344.59L72.21 346.11L72.89 347.64L73.50 349.17L74.03 350.69L74.45 352.22L74.76 353.75L74.94 355.27L75.00 356.80L74.93 358.33L74.72 359.85L74.40 361.38L73.97 362.91L73.43 364.43L72.81 365.96L72.12 367.49L71.38 369.01L70.60 370.54L69.81 372.07L69.02 373.59L68.25 375.12L67.50 376.65L66.79 378.17L66.13 379.70L65.52 381.23L64.97 382.75L64.48 384.28L64.04 385.81L63.67 387.33L63.34 388.86L63.06 390.39L62.83 391.91L62.63 393.44L62.47 394.97L62.35 396.49L62.24 398.02L62.16 399.55L62.10 401.07L62.05 402.60" fill="none" stroke="#000000" stroke-width="1.1" stroke-linejoin="round"/>
<path d="M66.49 330.58L68.04 332.13L66.49 333.68L64.94 332.13ZM64.89 333.34L66.44 334.89L64.89 336.44L63.34 334.89ZM63.51 334.71L65.06 336.26L63.51 337.81L61.96 336.26ZM71.31 336.55L72.86 338.10L71.31 339.65L69.76 338.10ZM61.90 343.89L63.45 345.44L61.90 346.99L60.35 345.44ZM69.02 343.89L70.57 345.44L69.02 346.99L67.47 345.44ZM63.51 351.70L65.06 353.25L63.51 354.80L61.96 353.25ZM61.90 354.45L63.45 356.00L61.90 357.55L60.35 356.00ZM71.31 353.53L72.86 355.08L71.31 356.63L69.76 355.08ZM67.18 355.83L68.73 357.38L67.18 358.93L65.63 357.38ZM64.89 360.88L66.44 362.43L64.89 363.98L63.34 362.43ZM72.46 363.63L74.01 365.18L72.46 366.73L70.91 365.18ZM69.02 363.63L70.57 365.18L69.02 366.73L67.47 365.18ZM67.18 365.93L68.73 367.48L67.18 369.03L65.63 367.48ZM61.90 366.85L63.45 368.40L61.90 369.95L60.35 368.40ZM63.51 368.68L65.06 370.23L63.51 371.78L61.96 370.23ZM69.02 370.06L70.57 371.61L69.02 373.16L67.47 371.61ZM64.89 372.81L66.44 374.36L64.89 375.91L63.34 374.36ZM71.31 372.81L72.86 374.36L71.31 375.91L69.76 374.36Z" fill="#000000" stroke="#000000" stroke-width="0.7" stroke-linejoin="round"/>
<path d="M106.95 346.70V335.80M102.60 335.80H111.30M106.95 379.50V389.80M102.60 389.80H111.30" fill="none" stroke="#ff0000" stroke-width="1.1"/>
<rect x="98.00" y="346.70" width="17.70" height="32.80" fill="#ff0000"/>
<path d="M98.00 362.40H115.70" stroke="#fff" stroke-opacity="0.72" stroke-width="0.9"/>
<path d="M119.04 306.00L119.08 307.89L119.14 309.78L119.22 311.67L119.32 313.56L119.44 315.45L119.59 317.34L119.78 319.23L120.00 321.12L120.26 323.01L120.58 324.90L120.94 326.79L121.36 328.68L121.84 330.57L122.37 332.46L122.96 334.35L123.60 336.24L124.29 338.13L125.01 340.02L125.77 341.91L126.54 343.80L127.32 345.69L128.08 347.58L128.81 349.47L129.49 351.36L130.11 353.25L130.64 355.14L131.08 357.03L131.41 358.92L131.61 360.81L131.70 362.70L131.65 364.59L131.48 366.48L131.19 368.37L130.79 370.26L130.28 372.15L129.69 374.04L129.03 375.93L128.31 377.82L127.56 379.71L126.79 381.60L126.01 383.49L125.25 385.38L124.51 387.27L123.81 389.16L123.16 391.05L122.55 392.94L122.00 394.83L121.51 396.72L121.07 398.61L120.69 400.50L120.36 402.39L120.08 404.28L119.84 406.17L119.65 408.06L119.49 409.95L119.35 411.84L119.25 413.73L119.17 415.62L119.10 417.51L119.05 419.40" fill="none" stroke="#ff0000" stroke-width="1.1" stroke-linejoin="round"/>
<path d="M122.17 334.26L123.72 335.81L122.17 337.36L120.62 335.81ZM118.91 336.43L120.46 337.98L118.91 339.53L117.36 337.98ZM120.54 339.14L122.09 340.69L120.54 342.24L118.99 340.69ZM122.17 341.04L123.72 342.59L122.17 344.14L120.62 342.59ZM125.69 345.11L127.24 346.66L125.69 348.21L124.14 346.66ZM118.91 357.05L120.46 358.60L118.91 360.15L117.36 358.60ZM121.08 357.05L122.63 358.60L121.08 360.15L119.53 358.60ZM125.69 357.05L127.24 358.60L125.69 360.15L124.14 358.60ZM123.80 359.22L125.35 360.77L123.80 362.32L122.25 360.77ZM119.45 361.39L121.00 362.94L119.45 364.49L117.90 362.94ZM118.91 364.65L120.46 366.20L118.91 367.75L117.36 366.20ZM120.54 370.61L122.09 372.16L120.54 373.71L118.99 372.16ZM128.41 370.61L129.96 372.16L128.41 373.71L126.86 372.16ZM128.41 374.96L129.96 376.51L128.41 378.06L126.86 376.51ZM125.69 378.48L127.24 380.03L125.69 381.58L124.14 380.03ZM122.17 380.38L123.72 381.93L122.17 383.48L120.62 381.93ZM123.80 380.38L125.35 381.93L123.80 383.48L122.25 381.93ZM130.31 380.38L131.86 381.93L130.31 383.48L128.76 381.93ZM118.91 387.98L120.46 389.53L118.91 391.08L117.36 389.53Z" fill="#ff0000" stroke="#ff0000" stroke-width="0.7" stroke-linejoin="round"/>
<path d="M164.00 287.40V276.30M159.80 276.30H168.20M164.00 329.20V365.00M159.80 365.00H168.20" fill="none" stroke="#000080" stroke-width="1.1"/>
<rect x="154.90" y="287.40" width="17.90" height="41.80" fill="#000080"/>
<path d="M154.90 305.10H172.80" stroke="#fff" stroke-opacity="0.72" stroke-width="0.9"/>
<rect x="162.90" y="308.00" width="2.2" height="2.2" fill="none" stroke="#fff" stroke-opacity="0.6" stroke-width="0.4"/>
<path d="M180.62 267.60L181.13 269.66L181.67 271.72L182.24 273.79L182.83 275.85L183.43 277.91L184.04 279.97L184.65 282.03L185.26 284.09L185.86 286.16L186.44 288.22L186.99 290.28L187.51 292.34L187.98 294.40L188.41 296.46L188.77 298.53L189.08 300.59L189.32 302.65L189.49 304.71L189.58 306.77L189.60 308.83L189.54 310.90L189.41 312.96L189.20 315.02L188.93 317.08L188.59 319.14L188.19 321.20L187.74 323.26L187.25 325.33L186.71 327.39L186.14 329.45L185.55 331.51L184.95 333.57L184.34 335.63L183.72 337.70L183.12 339.76L182.52 341.82L181.95 343.88L181.39 345.94L180.86 348.00L180.36 350.07L179.89 352.13L179.45 354.19L179.05 356.25L178.68 358.31L178.35 360.38L178.04 362.44L177.77 364.50L177.53 366.56L177.32 368.62L177.13 370.68L176.97 372.75L176.82 374.81L176.70 376.87L176.60 378.93L176.51 380.99L176.44 383.05L176.37 385.12L176.32 387.18L176.28 389.24L176.24 391.30" fill="none" stroke="#000080" stroke-width="1.1" stroke-linejoin="round"/>
<path d="M177.98 275.58L179.53 277.13L177.98 278.68L176.43 277.13ZM180.69 275.04L182.24 276.59L180.69 278.14L179.14 276.59ZM182.59 274.49L184.14 276.04L182.59 277.59L181.04 276.04ZM175.54 283.72L177.09 285.27L175.54 286.82L173.99 285.27ZM184.22 283.72L185.77 285.27L184.22 286.82L182.67 285.27ZM186.12 291.04L187.67 292.59L186.12 294.14L184.57 292.59ZM175.54 295.93L177.09 297.48L175.54 299.03L173.99 297.48ZM182.05 295.93L183.60 297.48L182.05 299.03L180.50 297.48ZM177.98 303.52L179.53 305.07L177.98 306.62L176.43 305.07ZM180.69 303.52L182.24 305.07L180.69 306.62L179.14 305.07ZM175.54 314.38L177.09 315.93L175.54 317.48L173.99 315.93ZM177.98 315.73L179.53 317.28L177.98 318.83L176.43 317.28ZM180.69 314.38L182.24 315.93L180.69 317.48L179.14 315.93ZM182.59 322.24L184.14 323.79L182.59 325.34L181.04 323.79ZM180.15 332.55L181.70 334.10L180.15 335.65L178.60 334.10ZM175.54 334.18L177.09 335.73L175.54 337.28L173.99 335.73ZM177.98 337.98L179.53 339.53L177.98 341.08L176.43 339.53ZM182.05 341.78L183.60 343.33L182.05 344.88L180.50 343.33ZM175.54 363.48L177.09 365.03L175.54 366.58L173.99 365.03Z" fill="#000080" stroke="#000080" stroke-width="0.7" stroke-linejoin="round"/>
<path d="M221.05 364.60V333.90M216.70 333.90H225.40M221.05 387.10V403.40M216.70 403.40H225.40" fill="none" stroke="#7f00ff" stroke-width="1.1"/>
<rect x="212.10" y="364.60" width="17.90" height="22.50" fill="#7f00ff"/>
<path d="M212.10 379.20H230.00" stroke="#fff" stroke-opacity="0.72" stroke-width="0.9"/>
<rect x="219.95" y="374.10" width="2.2" height="2.2" fill="none" stroke="#fff" stroke-opacity="0.6" stroke-width="0.4"/>
<path d="M232.55 306.00L232.60 307.96L232.65 309.91L232.72 311.87L232.81 313.83L232.91 315.78L233.03 317.74L233.18 319.70L233.35 321.65L233.55 323.61L233.79 325.57L234.06 327.52L234.38 329.48L234.73 331.44L235.13 333.39L235.57 335.35L236.05 337.31L236.58 339.26L237.15 341.22L237.75 343.18L238.39 345.13L239.06 347.09L239.74 349.05L240.43 351.00L241.13 352.96L241.81 354.92L242.47 356.87L243.10 358.83L243.68 360.79L244.21 362.74L244.67 364.70L245.06 366.66L245.36 368.61L245.57 370.57L245.68 372.53L245.69 374.48L245.61 376.44L245.43 378.40L245.16 380.35L244.80 382.31L244.36 384.27L243.85 386.22L243.28 388.18L242.67 390.14L242.01 392.09L241.33 394.05L240.64 396.01L239.95 397.96L239.26 399.92L238.59 401.88L237.94 403.83L237.33 405.79L236.75 407.75L236.21 409.70L235.71 411.66L235.26 413.62L234.85 415.57L234.48 417.53L234.15 419.49L233.87 421.44L233.62 423.40" fill="none" stroke="#7f00ff" stroke-width="1.1" stroke-linejoin="round"/>
<path d="M232.44 324.49L233.99 326.04L232.44 327.59L230.89 326.04ZM234.61 332.63L236.16 334.18L234.61 335.73L233.06 334.18ZM232.44 341.86L233.99 343.41L232.44 344.96L230.89 343.41ZM232.44 359.49L233.99 361.04L232.44 362.59L230.89 361.04ZM233.80 361.39L235.35 362.94L233.80 364.49L232.25 362.94ZM241.12 364.92L242.67 366.47L241.12 368.02L239.57 366.47ZM232.44 374.96L233.99 376.51L232.44 378.06L230.89 376.51ZM237.05 374.96L238.60 376.51L237.05 378.06L235.50 376.51ZM239.76 376.58L241.31 378.13L239.76 379.68L238.21 378.13ZM244.92 372.51L246.47 374.06L244.92 375.61L243.37 374.06ZM235.69 378.48L237.24 380.03L235.69 381.58L234.14 380.03ZM238.41 378.48L239.96 380.03L238.41 381.58L236.86 380.03ZM243.02 379.84L244.57 381.39L243.02 382.94L241.47 381.39ZM234.61 381.20L236.16 382.75L234.61 384.30L233.06 382.75ZM236.24 383.09L237.79 384.64L236.24 386.19L234.69 384.64ZM234.61 384.72L236.16 386.27L234.61 387.82L233.06 386.27ZM237.05 384.72L238.60 386.27L237.05 387.82L235.50 386.27ZM239.76 393.95L241.31 395.50L239.76 397.05L238.21 395.50ZM238.41 397.47L239.96 399.02L238.41 400.57L236.86 399.02ZM235.69 400.19L237.24 401.74L235.69 403.29L234.14 401.74ZM232.44 401.54L233.99 403.09L232.44 404.64L230.89 403.09Z" fill="#7f00ff" stroke="#7f00ff" stroke-width="0.7" stroke-linejoin="round"/>
<text x="133.6" y="470.5" text-anchor="middle" font-size="14.3"><tspan>(</tspan><tspan font-weight="bold">c</tspan><tspan>)</tspan></text>
<path d="M313.00 249.60V432.40H540.20" fill="none" stroke="#1a1a1a" stroke-width="1.15"/>
<path d="M313.00 421.48h-3.7M313.00 400.00h-3.7M313.00 378.51h-3.7M313.00 357.02h-3.7M313.00 335.54h-3.7M313.00 314.06h-3.7M313.00 292.57h-3.7M313.00 271.08h-3.7M313.00 249.60h-3.7M313.00 410.74h-2M313.00 389.25h-2M313.00 367.77h-2M313.00 346.28h-2M313.00 324.80h-2M313.00 303.31h-2M313.00 281.83h-2M313.00 260.34h-2M341.30 432.40v3.3M398.00 432.40v3.3M454.60 432.40v3.3M511.30 432.40v3.3" fill="none" stroke="#1a1a1a" stroke-width="1.15"/>
<text x="306.30" y="424.88" text-anchor="end" font-size="10.35">5</text>
<text x="306.30" y="403.39" text-anchor="end" font-size="10.35">10</text>
<text x="306.30" y="381.91" text-anchor="end" font-size="10.35">15</text>
<text x="306.30" y="360.42" text-anchor="end" font-size="10.35">20</text>
<text x="306.30" y="338.94" text-anchor="end" font-size="10.35">25</text>
<text x="306.30" y="317.45" text-anchor="end" font-size="10.35">30</text>
<text x="306.30" y="295.97" text-anchor="end" font-size="10.35">35</text>
<text x="306.30" y="274.48" text-anchor="end" font-size="10.35">40</text>
<text x="306.30" y="253.00" text-anchor="end" font-size="10.35">45</text>
<text x="341.30" y="446.40" text-anchor="middle" font-size="10.35">Algorithm1</text>
<text x="398.00" y="446.40" text-anchor="middle" font-size="10.35">Algorithm2</text>
<text x="454.60" y="446.40" text-anchor="middle" font-size="10.35">Algorithm3</text>
<text x="511.30" y="446.40" text-anchor="middle" font-size="10.35">Algorithm4</text>
<text transform="translate(294.40 341.00) rotate(-90)" text-anchor="middle" font-size="10.35">Number of path nodes</text>
<rect x="331.20" y="371.20" width="24.10" height="12.70" fill="#000000"/>
<text x="357.20" y="380.70" font-size="10.35">G-RRT</text>
<rect x="331.20" y="383.90" width="24.10" height="12.70" fill="#ff0000"/>
<path d="M331.20 383.90H355.30" stroke="#d8c0e8" stroke-opacity="0.6" stroke-width="0.6"/>
<text x="357.20" y="393.65" font-size="10.35">VT-RRT</text>
<rect x="331.20" y="396.60" width="24.10" height="12.70" fill="#000080"/>
<path d="M331.20 396.60H355.30" stroke="#d8c0e8" stroke-opacity="0.6" stroke-width="0.6"/>
<text x="357.20" y="406.60" font-size="10.35">GBI-RRT</text>
<rect x="331.20" y="409.30" width="24.10" height="12.70" fill="#7f00ff"/>
<path d="M331.20 409.30H355.30" stroke="#d8c0e8" stroke-opacity="0.6" stroke-width="0.6"/>
<text x="357.20" y="419.55" font-size="10.35">BPFPS-RRT</text>
<path d="M329.70 300.90V292.20M325.70 292.20H333.70M329.70 316.40V318.40M325.70 318.40H333.70" fill="none" stroke="#000000" stroke-width="1.1"/>
<rect x="321.00" y="300.90" width="17.70" height="15.50" fill="#000000"/>
<path d="M321.00 313.80H338.70" stroke="#fff" stroke-opacity="0.72" stroke-width="0.9"/>
<rect x="328.60" y="307.70" width="2.2" height="2.2" fill="none" stroke="#fff" stroke-opacity="0.6" stroke-width="0.4"/>
<path d="M341.83 279.20L341.87 280.19L341.93 281.18L342.01 282.16L342.10 283.15L342.22 284.14L342.37 285.13L342.54 286.12L342.76 287.11L343.02 288.09L343.33 289.08L343.69 290.07L344.10 291.06L344.57 292.05L345.10 293.04L345.68 294.02L346.32 295.01L347.01 296.00L347.75 296.99L348.51 297.98L349.30 298.97L350.09 299.95L350.87 300.94L351.63 301.93L352.34 302.92L352.99 303.91L353.57 304.90L354.04 305.88L354.41 306.87L354.66 307.86L354.79 308.85L354.78 309.84L354.65 310.83L354.38 311.81L354.00 312.80L353.52 313.79L352.94 314.78L352.28 315.77L351.56 316.76L350.80 317.75L350.02 318.73L349.23 319.72L348.44 320.71L347.68 321.70L346.95 322.69L346.27 323.68L345.63 324.66L345.05 325.65L344.53 326.64L344.06 327.63L343.65 328.62L343.30 329.61L343.00 330.59L342.74 331.58L342.53 332.57L342.35 333.56L342.21 334.55L342.09 335.54L342.00 336.52L341.93 337.51L341.87 338.50" fill="none" stroke="#000000" stroke-width="1.1" stroke-linejoin="round"/>
<path d="M341.73 290.67L343.28 292.22L341.73 293.77L340.18 292.22ZM350.58 295.18L352.13 296.73L350.58 298.28L349.03 296.73ZM351.75 295.18L353.30 296.73L351.75 298.28L350.20 296.73ZM349.25 299.36L350.80 300.91L349.25 302.46L347.70 300.91ZM353.09 299.36L354.64 300.91L353.09 302.46L351.54 300.91ZM343.07 303.53L344.62 305.08L343.07 306.63L341.52 305.08ZM345.57 303.53L347.12 305.08L345.57 306.63L344.02 305.08ZM353.76 308.04L355.31 309.59L353.76 311.14L352.21 309.59ZM341.73 312.55L343.28 314.10L341.73 315.65L340.18 314.10ZM343.73 312.55L345.28 314.10L343.73 315.65L342.18 314.10ZM345.57 312.55L347.12 314.10L345.57 315.65L344.02 314.10ZM347.58 312.55L349.13 314.10L347.58 315.65L346.03 314.10ZM349.58 312.55L351.13 314.10L349.58 315.65L348.03 314.10ZM341.73 316.90L343.28 318.45L341.73 320.00L340.18 318.45ZM343.07 316.90L344.62 318.45L343.07 320.00L341.52 318.45ZM344.23 316.90L345.78 318.45L344.23 320.00L342.68 318.45ZM345.57 316.90L347.12 318.45L345.57 320.00L344.02 318.45Z" fill="#000000" stroke="#000000" stroke-width="0.7" stroke-linejoin="round"/>
<path d="M386.70 346.30V348.40M382.50 348.40H390.90" fill="none" stroke="#ff0000" stroke-width="1.1"/>
<rect x="377.00" y="344.60" width="18.10" height="1.70" fill="#ff0000"/>
<path d="M398.21 327.50L398.25 328.07L398.30 328.64L398.36 329.21L398.45 329.79L398.55 330.36L398.68 330.93L398.84 331.50L399.04 332.07L399.28 332.64L399.56 333.22L399.89 333.79L400.27 334.36L400.71 334.93L401.20 335.50L401.75 336.07L402.36 336.65L403.02 337.22L403.72 337.79L404.46 338.36L405.23 338.93L406.01 339.50L406.78 340.08L407.54 340.65L408.25 341.22L408.92 341.79L409.51 342.36L410.01 342.94L410.41 343.51L410.70 344.08L410.86 344.65L410.90 345.22L410.81 345.79L410.59 346.37L410.25 346.94L409.81 347.51L409.26 348.08L408.64 348.65L407.95 349.22L407.22 349.80L406.45 350.37L405.68 350.94L404.90 351.51L404.15 352.08L403.42 352.65L402.73 353.23L402.10 353.80L401.51 354.37L400.98 354.94L400.51 355.51L400.10 356.08L399.74 356.66L399.43 357.23L399.17 357.80L398.95 358.37L398.77 358.94L398.62 359.51L398.50 360.09L398.41 360.66L398.33 361.23L398.28 361.80" fill="none" stroke="#ff0000" stroke-width="1.1" stroke-linejoin="round"/>
<path d="M398.50 333.75L400.05 335.30L398.50 336.85L396.95 335.30ZM401.20 338.05L402.75 339.60L401.20 341.15L399.65 339.60ZM409.10 338.05L410.65 339.60L409.10 341.15L407.55 339.60ZM399.90 342.35L401.45 343.90L399.90 345.45L398.35 343.90ZM402.20 342.35L403.75 343.90L402.20 345.45L400.65 343.90ZM404.40 342.35L405.95 343.90L404.40 345.45L402.85 343.90ZM406.60 342.35L408.15 343.90L406.60 345.45L405.05 343.90ZM408.80 342.35L410.35 343.90L408.80 345.45L407.25 343.90ZM398.30 346.55L399.85 348.10L398.30 349.65L396.75 348.10ZM401.90 346.55L403.45 348.10L401.90 349.65L400.35 348.10ZM399.10 350.85L400.65 352.40L399.10 353.95L397.55 352.40ZM404.50 350.85L406.05 352.40L404.50 353.95L402.95 352.40ZM410.40 355.15L411.95 356.70L410.40 358.25L408.85 356.70Z" fill="#ff0000" stroke="#ff0000" stroke-width="0.7" stroke-linejoin="round"/>
<path d="M443.30 292.60V279.50M439.10 279.50H447.50M443.30 301.00V313.80M439.10 313.80H447.50" fill="none" stroke="#000080" stroke-width="1.1"/>
<rect x="434.40" y="292.60" width="17.40" height="8.40" fill="#000080"/>
<path d="M434.40 296.30H451.80" stroke="#fff" stroke-opacity="0.72" stroke-width="0.9"/>
<path d="M454.76 262.20L454.81 263.33L454.88 264.47L454.97 265.61L455.08 266.74L455.21 267.88L455.38 269.01L455.59 270.14L455.84 271.28L456.14 272.41L456.49 273.55L456.90 274.69L457.36 275.82L457.89 276.95L458.47 278.09L459.12 279.23L459.82 280.36L460.57 281.50L461.35 282.63L462.17 283.76L462.99 284.90L463.82 286.03L464.62 287.17L465.39 288.31L466.09 289.44L466.72 290.57L467.25 291.71L467.68 292.85L467.98 293.98L468.16 295.12L468.20 296.25L468.10 297.38L467.87 298.52L467.51 299.65L467.03 300.79L466.45 301.93L465.79 303.06L465.06 304.19L464.27 305.33L463.46 306.47L462.63 307.60L461.81 308.74L461.00 309.87L460.23 311.00L459.50 312.14L458.83 313.27L458.21 314.41L457.65 315.55L457.15 316.68L456.71 317.81L456.33 318.95L456.00 320.09L455.73 321.22L455.50 322.36L455.31 323.49L455.15 324.62L455.02 325.76L454.92 326.89L454.84 328.03L454.78 329.17L454.74 330.30" fill="none" stroke="#000080" stroke-width="1.1" stroke-linejoin="round"/>
<path d="M454.60 269.55L456.15 271.10L454.60 272.65L453.05 271.10ZM456.90 278.15L458.45 279.70L456.90 281.25L455.35 279.70ZM459.80 282.35L461.35 283.90L459.80 285.45L458.25 283.90ZM455.80 286.65L457.35 288.20L455.80 289.75L454.25 288.20ZM455.10 290.95L456.65 292.50L455.10 294.05L453.55 292.50ZM458.50 290.95L460.05 292.50L458.50 294.05L456.95 292.50ZM455.10 295.25L456.65 296.80L455.10 298.35L453.55 296.80ZM458.00 295.25L459.55 296.80L458.00 298.35L456.45 296.80ZM461.30 295.25L462.85 296.80L461.30 298.35L459.75 296.80ZM463.80 295.25L465.35 296.80L463.80 298.35L462.25 296.80ZM460.20 299.55L461.75 301.10L460.20 302.65L458.65 301.10ZM462.70 299.55L464.25 301.10L462.70 302.65L461.15 301.10ZM466.00 299.55L467.55 301.10L466.00 302.65L464.45 301.10ZM456.00 303.85L457.55 305.40L456.00 306.95L454.45 305.40ZM458.90 303.85L460.45 305.40L458.90 306.95L457.35 305.40ZM465.00 312.35L466.55 313.90L465.00 315.45L463.45 313.90ZM467.20 312.35L468.75 313.90L467.20 315.45L465.65 313.90Z" fill="#000080" stroke="#000080" stroke-width="0.7" stroke-linejoin="round"/>
<path d="M499.70 386.50V378.50M495.40 378.50H504.00M499.70 395.70V404.00M495.40 404.00H504.00" fill="none" stroke="#7f00ff" stroke-width="1.1"/>
<rect x="490.90" y="386.50" width="17.60" height="9.20" fill="#7f00ff"/>
<path d="M490.90 393.50H508.50" stroke="#fff" stroke-opacity="0.72" stroke-width="0.9"/>
<rect x="498.60" y="389.00" width="2.2" height="2.2" fill="none" stroke="#fff" stroke-opacity="0.6" stroke-width="0.4"/>
<path d="M511.57 356.50L511.60 357.58L511.64 358.65L511.68 359.73L511.75 360.81L511.83 361.88L511.93 362.96L512.05 364.04L512.21 365.11L512.40 366.19L512.63 367.27L512.90 368.34L513.23 369.42L513.60 370.50L514.04 371.57L514.53 372.65L515.09 373.73L515.70 374.80L516.36 375.88L517.08 376.96L517.83 378.03L518.62 379.11L519.42 380.19L520.23 381.26L521.01 382.34L521.77 383.42L522.47 384.49L523.11 385.57L523.65 386.65L524.10 387.72L524.42 388.80L524.63 389.88L524.70 390.95L524.64 392.03L524.45 393.11L524.13 394.18L523.69 395.26L523.16 396.34L522.53 397.41L521.83 398.49L521.08 399.57L520.29 400.64L519.49 401.72L518.69 402.80L517.90 403.87L517.14 404.95L516.42 406.03L515.75 407.10L515.14 408.18L514.58 409.26L514.08 410.33L513.64 411.41L513.26 412.49L512.93 413.56L512.65 414.64L512.42 415.72L512.22 416.79L512.06 417.87L511.94 418.95L511.83 420.02L511.75 421.10" fill="none" stroke="#7f00ff" stroke-width="1.1" stroke-linejoin="round"/>
<path d="M511.53 355.15L513.08 356.70L511.53 358.25L509.98 356.70ZM511.53 376.92L513.08 378.47L511.53 380.02L509.98 378.47ZM512.84 376.92L514.39 378.47L512.84 380.02L511.29 378.47ZM511.53 385.36L513.08 386.91L511.53 388.46L509.98 386.91ZM512.84 385.36L514.39 386.91L512.84 388.46L511.29 386.91ZM520.35 385.36L521.90 386.91L520.35 388.46L518.80 386.91ZM513.21 389.49L514.76 391.04L513.21 392.59L511.66 391.04ZM514.72 389.49L516.27 391.04L514.72 392.59L513.17 391.04ZM518.84 389.49L520.39 391.04L518.84 392.59L517.29 391.04ZM520.72 389.49L522.27 391.04L520.72 392.59L519.17 391.04ZM515.65 393.81L517.20 395.36L515.65 396.91L514.10 395.36ZM516.97 393.81L518.52 395.36L516.97 396.91L515.42 395.36ZM518.47 393.81L520.02 395.36L518.47 396.91L516.92 395.36ZM522.78 393.81L524.33 395.36L522.78 396.91L521.23 395.36ZM524.10 393.81L525.65 395.36L524.10 396.91L522.55 395.36ZM513.78 398.12L515.33 399.67L513.78 401.22L512.23 399.67ZM521.85 398.12L523.40 399.67L521.85 401.22L520.30 399.67ZM511.53 402.44L513.08 403.99L511.53 405.54L509.98 403.99ZM512.28 402.44L513.83 403.99L512.28 405.54L510.73 403.99Z" fill="#7f00ff" stroke="#7f00ff" stroke-width="0.7" stroke-linejoin="round"/>
<text x="412.8" y="470.5" text-anchor="middle" font-size="14.3"><tspan>(</tspan><tspan font-weight="bold">d</tspan><tspan>)</tspan></text>
</svg>
</body></html>
